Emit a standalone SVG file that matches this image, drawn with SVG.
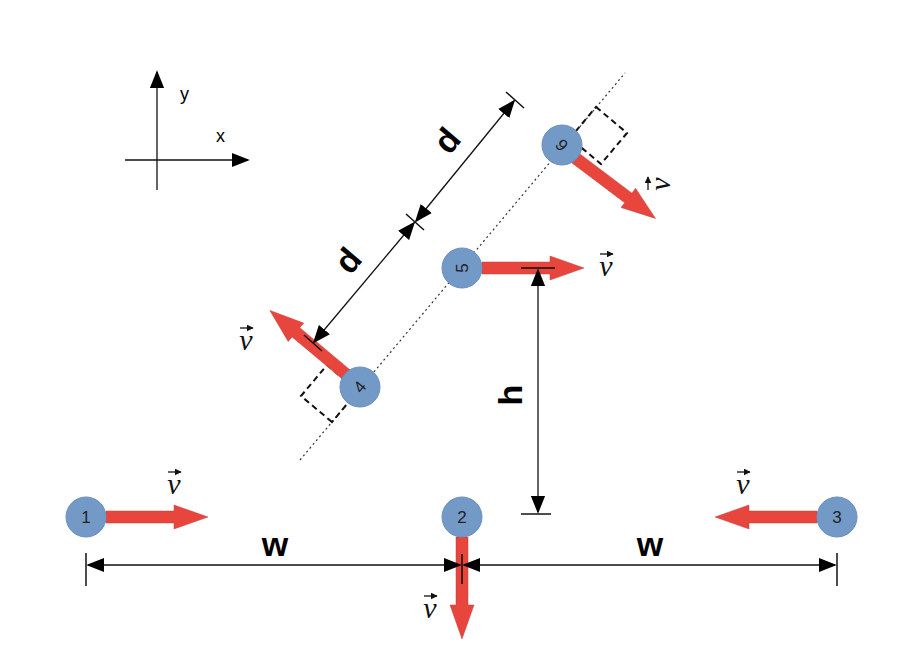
<svg xmlns="http://www.w3.org/2000/svg" width="916" height="654" viewBox="0 0 916 654">
<style>
.n{fill:#7399c6;stroke:#6a8fc0;stroke-width:1}
.nt{font-family:"Liberation Sans",sans-serif;font-size:17px;fill:#222;text-anchor:middle;dominant-baseline:central}
.r{fill:#e8453c;stroke:#c04040;stroke-width:0.5}
.dim{stroke:#111;stroke-width:1.3;fill:none}
.tk{stroke:#111;stroke-width:1.5}
.lbl{font-family:"Liberation Sans",sans-serif;font-weight:bold;font-size:34px;fill:#000;text-anchor:middle}
.v{font-family:"Liberation Serif",serif;font-style:italic;font-size:30px;fill:#111;text-anchor:middle}
.dash{stroke:#111;stroke-width:2;stroke-dasharray:6,4;fill:none}
</style>
<defs>
<marker id="ah" markerWidth="10" markerHeight="10" refX="9" refY="5" orient="auto-start-reverse" markerUnits="userSpaceOnUse" viewBox="0 0 10 10"><path d="M0,0 L10,5 L0,10 z" fill="#000"/></marker>
<marker id="ah2" viewBox="0 0 10 10" refX="9" refY="5" markerWidth="18" markerHeight="18" orient="auto-start-reverse" markerUnits="userSpaceOnUse"><path d="M0,1 L10,5 L0,9 z" fill="#000"/></marker>
<marker id="sm" viewBox="0 0 10 10" refX="9" refY="5" markerWidth="7" markerHeight="7" orient="auto" markerUnits="userSpaceOnUse"><path d="M0,0 L10,5 L0,10 z" fill="#111"/></marker>
<path id="ra" d="M0,-6 L68,-6 L68,-12 L102,0 L68,12 L68,6 L0,6 z"/>
<g id="vv"><text class="v" x="0" y="10">v</text><line x1="-6" y1="-12" x2="7" y2="-12" stroke="#111" stroke-width="1.3" marker-end="url(#sm)"/></g>
</defs>
<g id="axes">
<line x1="157" y1="190" x2="157" y2="72" class="dim" marker-end="url(#ah2)"/>
<line x1="125" y1="160" x2="248" y2="160" class="dim" marker-end="url(#ah2)"/>
<text x="180" y="100" font-family="Liberation Sans,sans-serif" font-size="18">y</text>
<text x="216" y="142" font-family="Liberation Sans,sans-serif" font-size="18">x</text>
</g>
<line x1="300" y1="460" x2="625" y2="73" stroke="#333" stroke-width="1.2" stroke-dasharray="2,3"/>
<path class="dash" d="M596,107 L627,133 L601,164 L570,138 z"/>
<path class="dash" d="M332,422 L301,396 L327,365 L358,391 z"/>
<g id="arrows">
<use href="#ra" class="r" transform="translate(106,517)"/>
<use href="#ra" class="r" transform="translate(462,537) rotate(90)"/>
<use href="#ra" class="r" transform="translate(817,517) rotate(180)"/>
<use href="#ra" class="r" transform="translate(482,268)"/>
<use href="#ra" class="r" transform="translate(348,376) rotate(-140)"/>
<use href="#ra" class="r" transform="translate(574,157) rotate(37)"/>
</g>
<g id="connectors">
<line x1="88" y1="565" x2="460" y2="565" class="dim" marker-start="url(#ah2)" marker-end="url(#ah2)"/>
<line x1="464" y1="565" x2="835" y2="565" class="dim" marker-start="url(#ah2)" marker-end="url(#ah2)"/>
<line x1="86" y1="553" x2="86" y2="586" class="tk"/>
<line x1="837" y1="553" x2="837" y2="586" class="tk"/>
<line x1="462" y1="554" x2="462" y2="584" class="tk"/>
<line x1="538" y1="270" x2="538" y2="512" class="dim" marker-start="url(#ah2)" marker-end="url(#ah2)"/>
<line x1="521" y1="268" x2="555" y2="268" class="tk"/>
<line x1="521" y1="514" x2="551" y2="514" class="tk"/>
<line x1="314" y1="342" x2="414" y2="223" class="dim" marker-start="url(#ah2)" marker-end="url(#ah2)"/>
<line x1="416" y1="221" x2="514" y2="101" class="dim" marker-start="url(#ah2)" marker-end="url(#ah2)"/>
<line x1="506" y1="92" x2="524" y2="108" class="tk"/>
<line x1="406" y1="214" x2="424" y2="230" class="tk"/>
<line x1="304" y1="335" x2="322" y2="351" class="tk"/>
</g>
<text class="lbl" x="275" y="556">w</text>
<text class="lbl" x="650" y="556">w</text>
<text class="lbl" transform="translate(522,395) rotate(-90)">h</text>
<text class="lbl" transform="translate(456,148) rotate(-50)">d</text>
<text class="lbl" transform="translate(357,268) rotate(-50)">d</text>
<use href="#vv" transform="translate(174,484)"/>
<use href="#vv" transform="translate(430,608)"/>
<use href="#vv" transform="translate(743,484)"/>
<use href="#vv" transform="translate(606,266)"/>
<use href="#vv" transform="translate(660,184) rotate(-90)"/>
<use href="#vv" transform="translate(246,340)"/>
<g id="node1"><circle class="n" cx="86" cy="517" r="20"/><text class="nt" x="86" y="517">1</text></g>
<g id="node2"><circle class="n" cx="462" cy="517" r="20"/><text class="nt" x="462" y="517">2</text></g>
<g id="node3"><circle class="n" cx="837" cy="517" r="20"/><text class="nt" x="837" y="517">3</text></g>
<g id="node4"><circle class="n" cx="360" cy="387" r="20"/><text class="nt" transform="translate(360,387) rotate(-50)">4</text></g>
<g id="node5"><circle class="n" cx="462" cy="268" r="20"/><text class="nt" transform="translate(462,268) rotate(-90)">5</text></g>
<g id="node6"><circle class="n" cx="562" cy="145" r="20"/><text class="nt" transform="translate(562,145) rotate(-130)">6</text></g>
</svg>
